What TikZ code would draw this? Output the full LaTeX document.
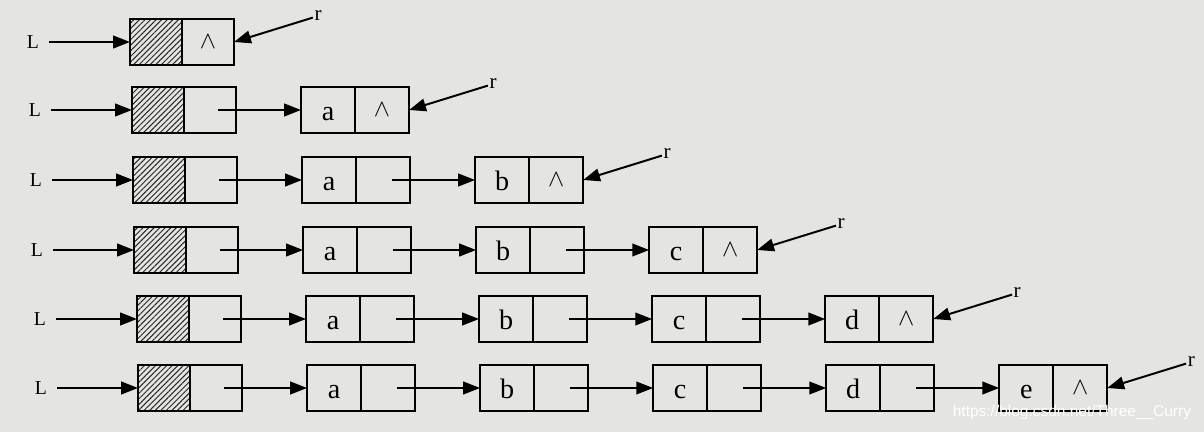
\documentclass[tikz,border=0pt]{standalone}
\usepackage{fontspec}
\setmainfont{Liberation Serif}
\newfontfamily\wmfont{Liberation Sans}
\usepackage{xcolor}
\usetikzlibrary{arrows.meta,positioning,patterns.meta}
\definecolor{paper}{RGB}{228,228,225}

\begin{document}
\begin{tikzpicture}[
  x=0.025cm, y=-0.025cm,
  node distance=1.625cm,
  cell/.style={draw, line width=1.5pt, minimum width=1.35cm, minimum height=1.15cm, inner sep=0pt, outer sep=0pt, font=\fontsize{16}{18}\selectfont},
  datacell/.style={cell, font=\fontsize{20}{24}\selectfont, text height=15pt, text depth=0pt},
  headcell/.style={cell, minimum width=1.3cm, pattern={Lines[angle=45,distance=2.8pt,line width=0.7pt]}, pattern color=black!85},
  headptr/.style={cell, minimum width=1.3cm},
  lbl/.style={font=\fontsize{14}{16}\selectfont, inner sep=2pt},
  rlbl/.style={font=\fontsize{15}{17}\selectfont, inner sep=1pt},
  link/.style={-{Triangle[length=12pt,width=9pt]}, line width=1.4pt},
  leftlink/.style={link, shorten <=5pt},
  nextlink/.style={link, shorten <=6pt}
]
\fill[paper] (0,0) rectangle (1204,432);

\node[headcell, anchor=west] (h1) at (130,42) {};
\node[headptr, right=0pt of h1] (h1p) {$\wedge$};
\node[lbl, left=2.2cm of h1] (L1) {L};
\node[rlbl] (r1) at ([shift={(2.1cm,0.65cm)}]h1p.east) {r};

\node[headcell, anchor=west] (h2) at (132,110) {};
\node[headptr, right=0pt of h2] (h2p) {};
\node[datacell, right=of h2p] (a2) {a};
\node[cell, right=0pt of a2] (a2p) {$\wedge$};
\node[lbl, left=2.2cm of h2] (L2) {L};
\node[rlbl] (r2) at ([shift={(2.1cm,0.65cm)}]a2p.east) {r};

\node[headcell, anchor=west] (h3) at (133,180) {};
\node[headptr, right=0pt of h3] (h3p) {};
\node[datacell, right=of h3p] (a3) {a};
\node[cell, right=0pt of a3] (a3p) {};
\node[datacell, right=of a3p] (b3) {b};
\node[cell, right=0pt of b3] (b3p) {$\wedge$};
\node[lbl, left=2.2cm of h3] (L3) {L};
\node[rlbl] (r3) at ([shift={(2.1cm,0.65cm)}]b3p.east) {r};

\node[headcell, anchor=west] (h4) at (134,250) {};
\node[headptr, right=0pt of h4] (h4p) {};
\node[datacell, right=of h4p] (a4) {a};
\node[cell, right=0pt of a4] (a4p) {};
\node[datacell, right=of a4p] (b4) {b};
\node[cell, right=0pt of b4] (b4p) {};
\node[datacell, right=of b4p] (c4) {c};
\node[cell, right=0pt of c4] (c4p) {$\wedge$};
\node[lbl, left=2.2cm of h4] (L4) {L};
\node[rlbl] (r4) at ([shift={(2.1cm,0.65cm)}]c4p.east) {r};

\node[headcell, anchor=west] (h5) at (137,319) {};
\node[headptr, right=0pt of h5] (h5p) {};
\node[datacell, right=of h5p] (a5) {a};
\node[cell, right=0pt of a5] (a5p) {};
\node[datacell, right=of a5p] (b5) {b};
\node[cell, right=0pt of b5] (b5p) {};
\node[datacell, right=of b5p] (c5) {c};
\node[cell, right=0pt of c5] (c5p) {};
\node[datacell, right=of c5p] (d5) {d};
\node[cell, right=0pt of d5] (d5p) {$\wedge$};
\node[lbl, left=2.2cm of h5] (L5) {L};
\node[rlbl] (r5) at ([shift={(2.1cm,0.65cm)}]d5p.east) {r};

\node[headcell, anchor=west] (h6) at (138,388) {};
\node[headptr, right=0pt of h6] (h6p) {};
\node[datacell, right=of h6p] (a6) {a};
\node[cell, right=0pt of a6] (a6p) {};
\node[datacell, right=of a6p] (b6) {b};
\node[cell, right=0pt of b6] (b6p) {};
\node[datacell, right=of b6p] (c6) {c};
\node[cell, right=0pt of c6] (c6p) {};
\node[datacell, right=of c6p] (d6) {d};
\node[cell, right=0pt of d6] (d6p) {};
\node[datacell, right=of d6p] (e6) {e};
\node[cell, right=0pt of e6] (e6p) {$\wedge$};
\node[lbl, left=2.2cm of h6] (L6) {L};
\node[rlbl] (r6) at ([shift={(2.1cm,0.65cm)}]e6p.east) {r};

\draw[leftlink] (L1) -- (h1);
\draw[link] (r1) -- (h1p.east);

\draw[leftlink] (L2) -- (h2);
\draw[nextlink] (h2p.center) -- (a2);
\draw[link] (r2) -- (a2p.east);

\draw[leftlink] (L3) -- (h3);
\draw[nextlink] (h3p.center) -- (a3);
\draw[nextlink] (a3p.center) -- (b3);
\draw[link] (r3) -- (b3p.east);

\draw[leftlink] (L4) -- (h4);
\draw[nextlink] (h4p.center) -- (a4);
\draw[nextlink] (a4p.center) -- (b4);
\draw[nextlink] (b4p.center) -- (c4);
\draw[link] (r4) -- (c4p.east);

\draw[leftlink] (L5) -- (h5);
\draw[nextlink] (h5p.center) -- (a5);
\draw[nextlink] (a5p.center) -- (b5);
\draw[nextlink] (b5p.center) -- (c5);
\draw[nextlink] (c5p.center) -- (d5);
\draw[link] (r5) -- (d5p.east);

\draw[leftlink] (L6) -- (h6);
\draw[nextlink] (h6p.center) -- (a6);
\draw[nextlink] (a6p.center) -- (b6);
\draw[nextlink] (b6p.center) -- (c6);
\draw[nextlink] (c6p.center) -- (d6);
\draw[nextlink] (d6p.center) -- (e6);
\draw[link] (r6) -- (e6p.east);

\node[font=\wmfont\fontsize{11}{13}\selectfont, text=white, anchor=east] (wm) at (1196,413) {https://blog.csdn.net/Three\_\_Curry};
\end{tikzpicture}
\end{document}
